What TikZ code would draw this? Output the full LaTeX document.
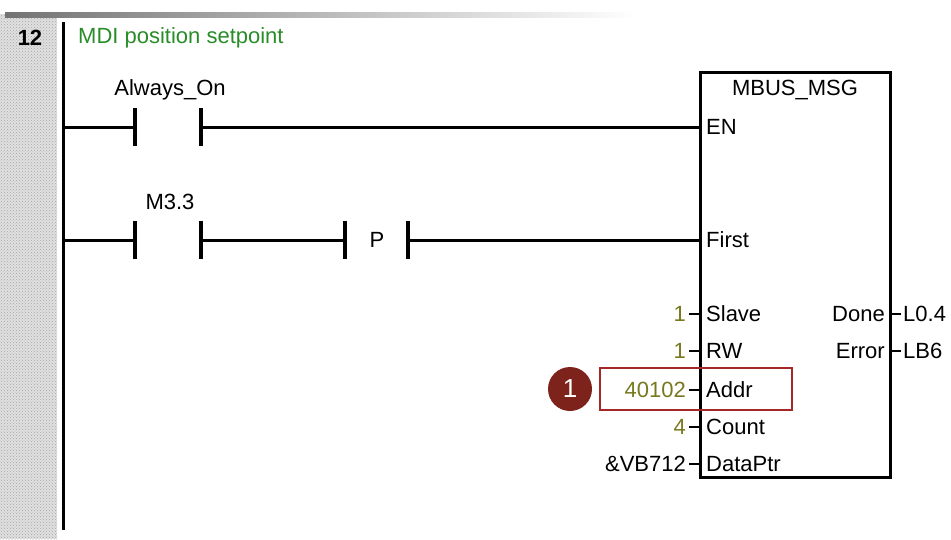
\documentclass[tikz,border=0pt]{standalone}
\usepackage{fontspec}
\setmainfont{Liberation Sans}
\usetikzlibrary{calc,patterns}
\definecolor{olivetxt}{RGB}{120,120,30}
\definecolor{cmtgreen}{RGB}{40,140,40}
\definecolor{boxred}{RGB}{165,40,40}
\definecolor{badge}{RGB}{125,35,28}
\def\railx{63}
\def\boxl{700}
\def\boxr{890}

\begin{document}
\begin{tikzpicture}[x=1pt,y=-1pt,
    txt/.style={font=\fontsize{22}{24}\selectfont, inner sep=0pt},
    val/.style={txt, anchor=east, text=olivetxt},
    wire/.style={line width=3pt},
    plate/.style={line width=3.5pt},
    stub/.style={line width=2.5pt}
  ]
    \useasboundingbox (0,0) rectangle (951,539);
    % gutter and header bar
    \fill[black!12] (0,14) rectangle (57,539);
    \fill[pattern=crosshatch dots, pattern color=gray!70] (0,14) rectangle (57,539);
    \shade[left color=black!55, right color=white] (5,12) rectangle (635,17);
    \node[txt, font=\fontsize{22}{24}\bfseries] (Num) at (30,38) {12};
    \node[txt, anchor=west, text=cmtgreen] (Cmt) at (78,38) {MDI position setpoint};
    \coordinate (RailT) at (\railx,22);
    \coordinate (RailB) at (\railx,530);
    \draw[wire] (RailT) -- (RailB);

    % rung 1
    \coordinate (R1) at (\railx,127);
    \coordinate (C1a) at (135,127);
    \coordinate (C1b) at (201,127);
    \coordinate (EN) at (\boxl,127);
    \draw[wire] (R1) -- (C1a) (C1b) -- (EN);
    \draw[plate] ($(C1a)+(0,-19)$) -- ($(C1a)+(0,19)$);
    \draw[plate] ($(C1b)+(0,-19)$) -- ($(C1b)+(0,19)$);
    \node[txt] (LblA) at (170,90) {Always\_On};

    % rung 2
    \coordinate (R2) at (\railx,240);
    \coordinate (C2a) at (135,240);
    \coordinate (C2b) at (201,240);
    \coordinate (Pa) at (345,240);
    \coordinate (Pb) at (408,240);
    \coordinate (First) at (\boxl,240);
    \draw[wire] (R2) -- (C2a) (C2b) -- (Pa) (Pb) -- (First);
    \foreach \c in {C2a,C2b,Pa,Pb}
      \draw[plate] ($(\c)+(0,-19)$) -- ($(\c)+(0,19)$);
    \node[txt] (LblM) at (170,202) {M3.3};
    \node[txt] (LblP) at (377,240) {P};

    % function box
    \draw[wire] (\boxl,72) rectangle (\boxr,477);
    \node[txt] (Title) at (795,90) {MBUS\_MSG};
    \node[txt, anchor=west] (PEN) at (706,127) {EN};
    \node[txt, anchor=west] (PFirst) at (706,240) {First};
    \foreach \y/\p/\v/\c in {314/Slave/1/olivetxt, 351/RW/1/olivetxt,
        390/Addr/40102/olivetxt, 427/Count/4/olivetxt, 464/DataPtr/\&VB712/black} {
      \node[txt, anchor=west] (In\p) at (706,\y) {\p};
      \draw[stub] (689,\y) -- (\boxl,\y);
      \node[val, text=\c] (V\p) at (686,\y) {\v};
    }
    \foreach \y/\p/\v in {314/Done/L0.4, 351/Error/LB6} {
      \node[txt, anchor=east] (Out\p) at (885,\y) {\p};
      \draw[stub] (\boxr,\y) -- (901,\y);
      \node[txt, anchor=west] (W\p) at (903,\y) {\v};
    }

    % highlight
    \draw[boxred, line width=1.8pt] (600,368) rectangle (792,410);
    \node[circle, fill=badge, minimum size=44pt, inner sep=0pt, text=white,
      font=\fontsize{26}{28}\selectfont] (Badge) at (570,389) {1};
\end{tikzpicture}
\end{document}
